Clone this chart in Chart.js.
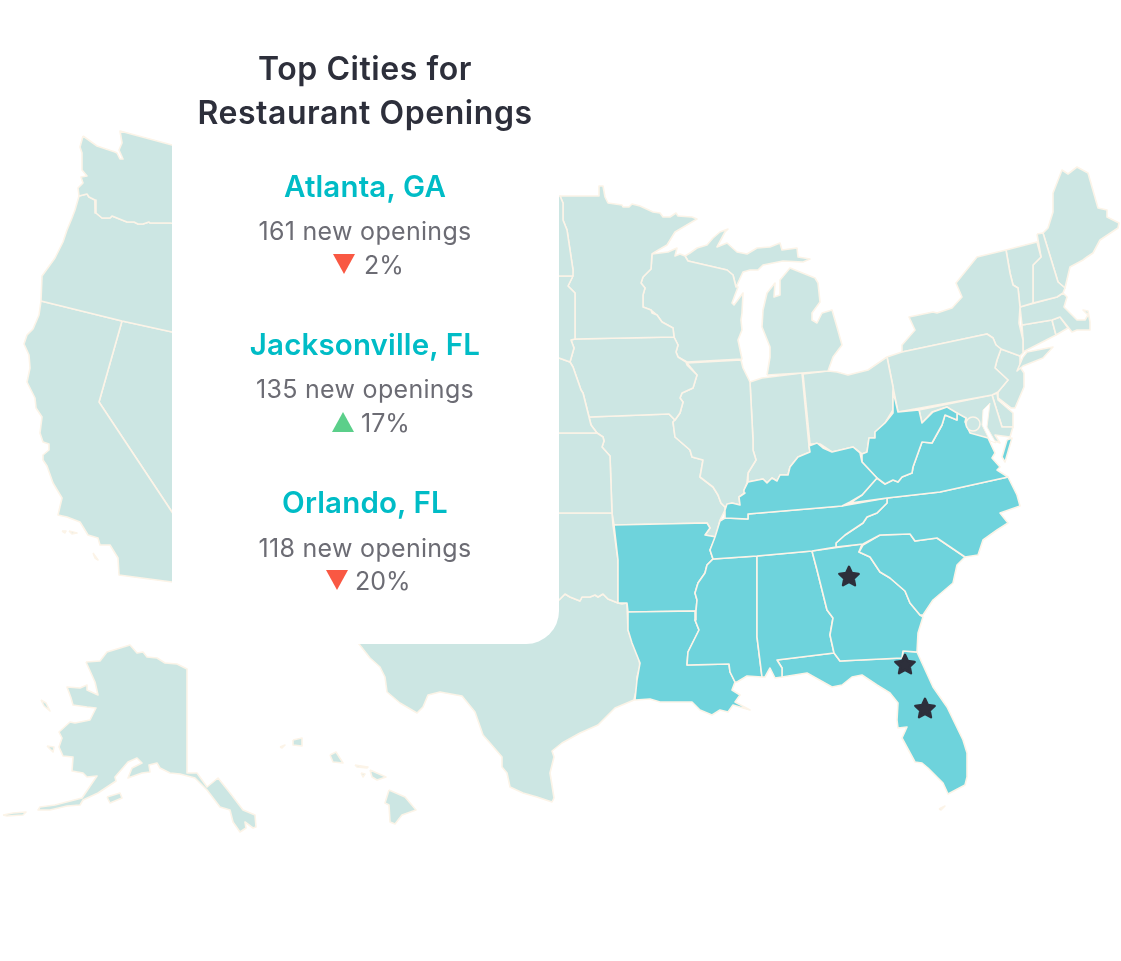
<!DOCTYPE html>
<html><head><meta charset="utf-8">
<style>
html,body{margin:0;padding:0;background:#fff;overflow:hidden}
#wrap{position:relative;width:1121px;height:961px;font-family:Inter,sans-serif}
canvas{position:absolute;left:0;top:0}
#panel{position:absolute;left:172px;top:0;width:387px;height:644px;background:#fff;border-bottom-right-radius:33px}
.t{position:absolute;left:0;width:388px;text-align:center;white-space:nowrap;transform:translateX(-1px)}
.title{font-size:32px;font-weight:600;color:#2d2f3b;line-height:44px;letter-spacing:.55px}
.city{font-size:29.5px;font-weight:600;color:#00bcc6;line-height:36px;letter-spacing:.15px}
.sub{font-size:25px;color:#6c6c74;line-height:30px;letter-spacing:.3px}
.pct{text-align:left;transform:none;letter-spacing:0}
.tri{position:absolute;width:0;height:0;border-left:11px solid transparent;border-right:11px solid transparent}
</style>
<script src="https://cdn.jsdelivr.net/npm/chart.js@4"></script>
</head><body><div id="wrap"><canvas id="c" width="1121" height="961"></canvas><div id="panel"></div></div>
<script>
const titleLines=["Top Cities for","Restaurant Openings"];
const cities=["Atlanta, GA","Jacksonville, FL","Orlando, FL"];
const openings=[161,135,118];
const changes=[-2,17,-20];
const starPoints=[[849,577],[905,665],[925,709]];
const dcPoint=[[973,424]];

const WA=[[83,136],[80,147],[82,153],[82,170],[87,176],[81,177],[83,183],[78,188],[79,196],[87,194],[89,197],[95,200],[96,213],[102,218],[110,218],[112,216],[127,222],[134,222],[138,224],[143,224],[149,222],[150,223],[170,223],[200,227],[200,155],[172,145],[120,131],[122,143],[119,150],[123,159],[120,159],[117,153],[115,152],[97,146]];
const OR=[[79,196],[75,210],[72,218],[67,230],[63,242],[55,258],[42,276],[41,301],[122,321],[172,332],[200,338],[200,227],[170,223],[150,223],[149,222],[143,224],[138,224],[134,222],[127,222],[112,216],[110,218],[102,218],[96,213],[95,200],[89,197],[87,194]];
const CA=[[41,301],[39,315],[33,329],[27,335],[24,344],[29,355],[30,368],[27,382],[35,398],[36,408],[42,417],[40,433],[43,442],[49,444],[49,450],[43,455],[43,460],[47,466],[53,483],[62,498],[58,515],[67,517],[80,522],[88,535],[98,538],[100,545],[110,545],[118,558],[119,575],[172,582],[200,584],[200,555],[172,512],[99,402],[122,321]];
const NV=[[122,321],[99,402],[172,512],[200,555],[200,338]];
const ChannelA=[[62,531],[66,531],[65,533]];
const ChannelB=[[69,531],[77,533],[72,534]];
const ChannelC=[[93,553],[98,560],[95,558]];
const ND=[[500,196],[560,196],[563,203],[563,220],[567,230],[573,270],[573,276],[500,276]];
const SD=[[500,276],[573,276],[568,286],[575,293],[575,339],[571,340],[574,348],[570,362],[559,358],[500,350]];
const NE=[[500,350],[559,358],[570,362],[573,367],[581,390],[583,393],[589,417],[591,425],[597,433],[559,433],[500,430]];
const KS=[[500,430],[559,433],[597,433],[603,437],[604,441],[602,447],[610,456],[612,513],[559,513],[500,513]];
const OK=[[500,513],[612,513],[613,525],[618,560],[618,603],[608,599],[603,594],[598,597],[595,595],[590,597],[582,597],[580,601],[570,597],[565,594],[559,600],[500,590]];
const TX=[[559,600],[565,594],[570,597],[580,601],[582,597],[590,597],[595,595],[598,597],[603,594],[608,599],[618,603],[622,604],[627,603],[628,630],[633,643],[639,658],[640,667],[637,677],[637,687],[634,700],[615,708],[598,725],[580,733],[562,743],[552,751],[554,757],[550,773],[554,798],[552,802],[537,797],[523,793],[510,787],[507,773],[502,767],[502,757],[490,743],[483,735],[475,712],[462,696],[440,692],[428,695],[423,707],[417,713],[400,703],[387,692],[385,677],[380,667],[370,658],[359,644],[340,620],[400,590],[500,590]];
const MN=[[560,196],[599,196],[599,186],[603,186],[605,197],[608,203],[622,205],[623,207],[629,207],[632,204],[640,206],[653,212],[660,213],[663,217],[670,217],[676,213],[678,216],[692,217],[697,219],[675,232],[667,245],[655,252],[652,254],[651,269],[643,277],[641,283],[645,288],[643,295],[643,307],[651,310],[652,313],[657,315],[662,322],[673,328],[674,337],[575,339],[575,293],[568,286],[572,278],[573,270],[567,230],[563,220],[563,203]];
const IA=[[571,340],[575,339],[674,337],[678,345],[676,352],[678,357],[686,362],[687,365],[697,375],[693,388],[682,393],[680,398],[683,402],[680,413],[675,420],[669,414],[589,417],[583,393],[581,390],[573,367],[570,362],[574,348]];
const WI=[[652,254],[660,253],[668,252],[677,248],[675,256],[680,254],[685,256],[688,261],[727,270],[733,275],[736,287],[738,287],[732,303],[734,305],[743,293],[742,313],[741,320],[742,330],[738,340],[742,359],[687,362],[678,357],[676,352],[678,345],[674,337],[673,328],[662,322],[657,315],[651,310],[643,307],[643,295],[645,288],[641,283],[643,277],[651,269]];
const MIU=[[685,256],[690,253],[697,248],[707,245],[713,238],[720,232],[728,229],[725,232],[717,247],[727,243],[737,252],[747,254],[757,248],[770,247],[780,243],[782,250],[797,248],[798,257],[810,259],[803,262],[783,261],[763,265],[758,270],[750,270],[743,272],[736,287],[733,275],[727,270],[688,261]];
const MIL=[[767,375],[802,373],[828,371],[833,357],[842,345],[837,327],[832,310],[822,313],[817,323],[812,320],[812,313],[820,302],[818,283],[815,278],[790,268],[780,280],[780,295],[774,297],[775,283],[767,293],[763,310],[762,327],[770,347],[770,357]];
const IL=[[687,363],[741,360],[743,368],[750,382],[753,440],[753,450],[756,460],[748,473],[747,483],[744,490],[745,493],[739,497],[740,505],[732,503],[725,507],[721,503],[718,495],[713,487],[700,477],[703,460],[692,457],[690,450],[675,437],[673,422],[675,420],[680,413],[683,402],[680,398],[682,393],[693,388],[697,375]];
const MO=[[589,417],[669,414],[675,420],[673,422],[675,437],[690,450],[692,457],[703,460],[700,477],[713,487],[718,495],[721,503],[725,507],[725,510],[720,520],[716,537],[705,535],[710,528],[707,523],[614,525],[612,513],[610,456],[602,447],[604,441],[603,437],[597,433],[591,425]];
const IN=[[750,382],[762,378],[802,373],[809,446],[810,452],[798,457],[790,467],[788,475],[780,475],[777,481],[772,478],[767,483],[763,479],[748,482],[748,473],[756,460],[753,450],[753,440]];
const OH=[[803,374],[828,371],[837,372],[848,375],[868,370],[887,357],[893,387],[893,410],[885,423],[875,432],[875,438],[869,438],[867,452],[862,454],[853,447],[832,452],[820,444],[810,444]];
const PA=[[887,357],[902,352],[987,334],[993,338],[996,345],[1001,349],[997,360],[995,368],[1008,380],[998,392],[992,395],[898,412],[893,387]];
const NY=[[902,352],[902,345],[915,330],[909,317],[933,312],[937,313],[952,308],[962,297],[956,283],[977,257],[1006,250],[1010,273],[1013,285],[1018,288],[1020,307],[1019,323],[1023,340],[1023,353],[1020,356],[1001,349],[996,345],[993,338],[987,334]];
const LI=[[1023,357],[1027,352],[1053,347],[1043,358],[1023,366],[1017,371]];
const NJ=[[1001,349],[1020,356],[1020,367],[1024,373],[1024,387],[1015,408],[1011,408],[998,398],[998,392],[1008,380],[995,368],[997,360]];
const VT=[[1006,250],[1037,242],[1041,257],[1033,265],[1033,295],[1033,303],[1020,307],[1018,288],[1013,285],[1010,273]];
const NH=[[1037,234],[1043,233],[1058,282],[1065,288],[1063,293],[1057,297],[1033,303],[1033,265],[1041,257]];
const ME=[[1043,233],[1048,228],[1053,212],[1053,193],[1062,170],[1068,174],[1077,167],[1088,173],[1098,208],[1107,210],[1107,217],[1119,223],[1118,228],[1100,240],[1093,253],[1087,257],[1083,260],[1070,267],[1065,288],[1058,282]];
const MA=[[1020,307],[1057,297],[1063,293],[1067,297],[1064,307],[1077,320],[1085,320],[1088,315],[1083,310],[1088,311],[1090,322],[1090,330],[1077,330],[1072,332],[1068,327],[1060,317],[1052,320],[1022,325]];
const RI=[[1052,320],[1060,317],[1068,328],[1056,335]];
const CT=[[1022,325],[1052,320],[1056,335],[1023,352],[1023,340]];
const MD=[[919,410],[992,395],[1002,427],[1013,427],[1010,437],[995,435],[1000,443],[987,438],[970,435],[966,418],[957,415],[947,407],[932,412],[922,423]];
const DE=[[992,395],[997,393],[998,400],[1013,413],[1013,427],[1002,427]];
const Bay=[[983,410],[990,403],[987,427],[996,443],[990,441],[982,425]];
const KY=[[725,510],[727,504],[732,503],[740,505],[739,497],[745,493],[744,490],[748,482],[763,479],[767,483],[772,478],[777,481],[780,475],[788,475],[790,467],[798,457],[810,452],[809,446],[817,443],[823,448],[832,452],[853,447],[860,453],[862,462],[877,478],[862,495],[850,502],[842,506],[748,514],[748,519],[725,518]];
const WV=[[862,454],[867,452],[869,438],[875,438],[875,432],[885,423],[893,413],[893,391],[898,412],[919,410],[922,423],[933,412],[947,407],[957,413],[957,420],[945,415],[942,425],[932,443],[922,442],[913,467],[912,473],[902,477],[898,482],[893,480],[885,484],[877,478],[862,462]];
const VA=[[877,478],[885,484],[893,480],[898,482],[902,477],[912,473],[913,467],[922,442],[932,443],[942,425],[945,415],[957,420],[957,413],[966,418],[965,422],[970,433],[988,438],[995,453],[992,458],[1000,467],[997,470],[1008,477],[940,492],[887,498],[850,503],[862,495]];
const VAE=[[1007,440],[1012,438],[1005,462],[1002,457]];
const TN=[[720,521],[725,518],[748,519],[748,514],[842,506],[887,498],[887,503],[877,513],[867,517],[863,523],[845,535],[836,543],[836,547],[812,551],[757,556],[713,559],[710,550],[715,537]];
const NC=[[887,498],[940,492],[1008,477],[1017,495],[1020,506],[1000,513],[1008,523],[997,530],[983,540],[978,555],[965,557],[937,538],[915,541],[910,534],[880,535],[863,544],[836,547],[836,543],[845,535],[863,523],[867,517],[877,513],[887,503]];
const SC=[[863,545],[880,535],[910,534],[915,541],[937,538],[965,557],[957,565],[953,583],[933,600],[923,615],[920,615],[910,603],[905,591],[890,578],[880,572],[870,557],[859,552]];
const GA=[[812,551],[862,544],[859,552],[870,557],[880,572],[890,578],[905,591],[910,603],[920,615],[923,617],[918,633],[917,652],[903,651],[902,658],[840,661],[834,653],[830,635],[833,618],[827,610],[817,570]];
const AL=[[757,556],[812,551],[817,570],[827,610],[833,618],[830,635],[834,653],[777,660],[782,668],[782,677],[775,678],[770,668],[765,677],[762,677],[757,637]];
const FL=[[777,660],[834,653],[840,661],[902,658],[903,651],[917,652],[933,687],[947,707],[963,740],[967,753],[967,777],[965,785],[948,794],[943,783],[928,768],[922,763],[915,762],[902,738],[907,727],[898,728],[897,720],[898,703],[890,693],[877,685],[862,675],[852,677],[842,685],[832,687],[807,673],[782,677],[782,668]];
const FLK=[[939,809],[945,806],[941,810]];
const MS=[[713,559],[757,556],[757,637],[762,677],[747,676],[737,682],[735,682],[730,672],[729,664],[687,665],[688,652],[699,630],[695,620],[696,611],[697,600],[695,593],[698,583],[705,573],[707,565]];
const LA=[[628,612],[696,611],[695,620],[699,630],[688,652],[687,665],[729,664],[730,672],[735,682],[732,690],[740,695],[735,702],[750,710],[733,705],[728,712],[720,710],[712,715],[700,710],[692,702],[678,702],[660,702],[650,699],[635,700],[637,680],[640,663],[632,643],[628,630]];
const AR=[[614,525],[707,523],[710,528],[705,535],[716,537],[710,550],[713,559],[707,565],[705,573],[698,583],[695,593],[697,600],[696,611],[628,612],[627,603],[618,603],[618,560]];
const AK=[[86,662],[100,661],[107,652],[117,649],[130,645],[137,653],[143,652],[147,657],[157,658],[165,663],[177,664],[187,669],[187,773],[197,773],[207,787],[218,778],[230,793],[243,810],[255,815],[256,827],[253,828],[245,822],[246,828],[240,832],[233,822],[230,810],[220,807],[207,790],[195,778],[180,774],[170,773],[160,768],[157,763],[149,765],[150,772],[142,773],[128,778],[132,768],[142,763],[137,758],[128,762],[115,777],[116,781],[98,793],[83,800],[80,805],[67,806],[50,810],[38,810],[40,807],[55,805],[82,798],[97,776],[87,777],[83,773],[72,771],[73,757],[63,756],[59,747],[62,738],[59,732],[70,722],[75,723],[90,720],[96,708],[87,707],[73,705],[71,698],[67,687],[80,688],[87,685],[87,690],[98,695],[95,682]];
const AKkodiak=[[107,797],[120,793],[122,798],[110,803]];
const AKaleut=[[3,815],[13,813],[26,812],[23,815],[7,816]];
const AKnunivak=[[47,746],[54,747],[53,752]];
const AKstl=[[41,700],[46,703],[50,711],[44,706]];
const HIa=[[293,740],[302,738],[302,746],[293,745]];
const HIb=[[330,755],[336,752],[343,763],[333,762]];
const HIc=[[355,765],[368,767],[367,768],[357,767]];
const HId=[[370,770],[386,777],[377,780],[372,777]];
const HIe=[[361,773],[365,774],[363,777]];
const HIf=[[389,790],[405,797],[416,810],[402,815],[395,824],[390,822],[389,805],[385,803]];
const HIg=[[280,747],[285,745],[282,748]];

const plainStates=[WA,OR,CA,NV,ChannelA,ChannelB,ChannelC,ND,SD,NE,KS,OK,TX,MN,IA,WI,MIU,MIL,IL,MO,IN,OH,PA,NY,LI,NJ,VT,NH,ME,MA,RI,CT,MD,DE,AK,AKkodiak,AKaleut,AKnunivak,AKstl,HIa,HIb,HIc,HId,HIe,HIf,HIg];
const highlightStates=[KY,WV,VA,VAE,TN,NC,SC,GA,AL,FL,FLK,MS,LA,AR];
const waterBodies=[Bay];

const plainColor="#cce6e3",hiColor="#6ed3dc",lineColor="#fcf4e8",starColor="#2d2f3b";
const toXY=a=>a.map(p=>({x:p[0],y:p[1]}));
const poly=(a,fillC,w,ord)=>({type:"line",order:ord,data:toXY(a.concat([a[0]])),fill:"shape",backgroundColor:fillC,borderColor:lineColor,borderWidth:w,borderJoinStyle:"round",pointRadius:0,tension:0,spanGaps:false});

const star=document.createElement("canvas");star.width=star.height=28;
(function(){const g=star.getContext("2d");g.translate(14,14);g.beginPath();
for(let i=0;i<10;i++){const r=i%2?4.9:10.2,a=-Math.PI/2+i*Math.PI/5;g[i?"lineTo":"moveTo"](r*Math.cos(a),r*Math.sin(a));}
g.closePath();g.fillStyle=starColor;g.strokeStyle=starColor;g.lineWidth=2.4;g.lineJoin="round";g.fill();g.stroke();})();

const datasets=[...plainStates.map(a=>poly(a,plainColor,1.6,4)),...highlightStates.map(a=>poly(a,hiColor,1.6,3)),...waterBodies.map(a=>poly(a,"#ffffff",1,2)),
{type:"line",order:1,data:toXY(dcPoint),showLine:false,pointRadius:7,pointBackgroundColor:plainColor,pointBorderColor:lineColor,pointBorderWidth:1.6},
{type:"line",order:0,data:toXY(starPoints),showLine:false,pointStyle:star,pointRadius:14}];

new Chart(document.getElementById("c"),{type:"line",data:{datasets},options:{responsive:false,animation:false,devicePixelRatio:1,layout:{padding:0,autoPadding:false},
scales:{x:{type:"linear",display:false,min:0,max:1121},y:{type:"linear",display:false,min:0,max:961,reverse:true}},
plugins:{legend:{display:false},tooltip:{enabled:false},title:{display:false}}}});

const panel=document.getElementById("panel");
const add=(cls,txt,top,extra)=>{const d=document.createElement("div");d.className="t "+cls;d.textContent=txt;d.style.top=top+"px";if(extra)Object.assign(d.style,extra);panel.appendChild(d);return d;};
add("title",titleLines[0],47);add("title",titleLines[1],91);
const blockTop=[0,158,316],subShift=[0,0,1],triLeft=[161,160,154],pctLeft=[192,189,183];
cities.forEach((c,i)=>{const o=blockTop[i];
add("city",c,168+o);
add("sub",openings[i]+" new openings",216+o+subShift[i]);
const up=changes[i]>0;
add("sub pct",Math.abs(changes[i])+"%",250+o,{left:pctLeft[i]+"px"});
const t=document.createElement("div");t.className="tri";t.style.left=triLeft[i]+"px";t.style.top=(254+o)+"px";
if(up)t.style.borderBottom="20px solid #5bcf8a";else t.style.borderTop="20px solid #f95843";
panel.appendChild(t);});
</script></body></html>
